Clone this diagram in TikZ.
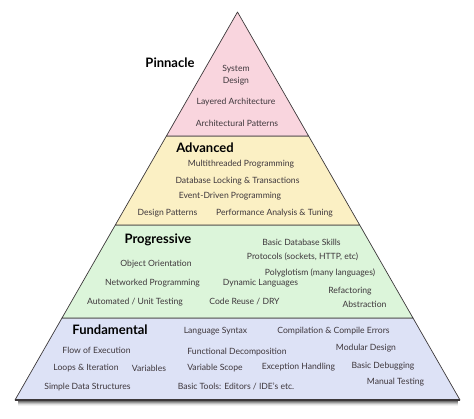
\documentclass[tikz,border=0pt]{standalone}
\usepackage{fontspec}
\setmainfont{Lato}

\definecolor{pinkband}{RGB}{249,213,222}
\definecolor{yellowband}{RGB}{251,240,196}
\definecolor{greenband}{RGB}{220,245,218}
\definecolor{blueband}{RGB}{221,226,246}
\definecolor{edgegray}{RGB}{60,56,58}
\definecolor{itemgray}{RGB}{62,55,60}

\begin{document}
\begin{tikzpicture}[x=1pt,y=1pt,yscale=-1,xscale=1,
  item/.style={font=\fontsize{8.6}{10}\selectfont, text=itemgray, inner sep=0pt},
  tier/.style={font=\fontsize{13}{15}\selectfont\bfseries, text=black, inner sep=0pt},
  band/.style={draw=edgegray, line width=0.7pt, line join=round}]

\useasboundingbox (0,0) rectangle (474,418);

% shadow under the base
\foreach \d/\o in {1/0.55,2/0.4,3/0.25,4/0.12,5/0.05}
  \draw[black, opacity=\o, line width=1pt] (18,400+\d) -- (458,400+\d);

% bands
\draw[band, fill=blueband] (62,318) -- (413,318) -- (460,400) -- (15,400) -- cycle;
\draw[band, fill=greenband] (115.3,225) -- (359.7,225) -- (413,318) -- (62,318) -- cycle;
\draw[band, fill=yellowband] (166.4,136) -- (308.6,136) -- (359.7,225) -- (115.3,225) -- cycle;
\draw[band, fill=pinkband] (237.5,12) -- (308.6,136) -- (166.4,136) -- cycle;
\draw[edgegray, line width=1.2pt] (15,400) -- (460,400);

% pinnacle
\node[tier] (pinnacle) at (170,63) {Pinnacle};
\node[item, align=center] (sysdesign) at (236,75) {System\\[2.5pt]Design};
\node[item] (layered) at (236,102) {Layered Architecture};
\node[item] (archpat) at (237,123) {Architectural Patterns};

% advanced
\node[tier] (advanced) at (205,148) {Advanced};
\node[item] (multithread) at (241,164) {Multithreaded Programming};
\node[item] (dblock) at (237.5,181) {Database Locking \& Transactions};
\node[item] (eventdriven) at (230,196) {Event-Driven Programming};
\node[item] (designpat) at (167.5,213) {Design Patterns};
\node[item] (perf) at (274.5,213) {Performance Analysis \& Tuning};

% progressive
\node[tier] (progressive) at (158,240) {Progressive};
\node[item] (dbskills) at (301.5,242) {Basic Database Skills};
\node[item] (protocols) at (302.5,257) {Protocols (sockets, HTTP, etc)};
\node[item] (objorient) at (156,264) {Object Orientation};
\node[item] (polyglot) at (320,273) {Polyglotism (many languages)};
\node[item] (networked) at (152.5,283) {Networked Programming};
\node[item] (dynlang) at (260.5,283) {Dynamic Languages};
\node[item] (refactor) at (350,291) {Refactoring};
\node[item] (unittest) at (135,302) {Automated / Unit Testing};
\node[item] (dry) at (244.5,302) {Code Reuse / DRY};
\node[item] (abstraction) at (364.5,304) {Abstraction};

% fundamental
\node[tier] (fundamental) at (110,330) {Fundamental};
\node[item] (syntax) at (215.5,331) {Language Syntax};
\node[item] (compile) at (333.5,331) {Compilation \& Compile Errors};
\node[item] (flow) at (96.5,350) {Flow of Execution};
\node[item] (funcdecomp) at (237,352) {Functional Decomposition};
\node[item] (modular) at (366,348) {Modular Design};
\node[item] (loops) at (86,368) {Loops \& Iteration};
\node[item] (variables) at (149,368) {Variables};
\node[item] (scope) at (215,368) {Variable Scope};
\node[item] (exceptions) at (298.5,367) {Exception Handling};
\node[item] (debugging) at (383,366) {Basic Debugging};
\node[item] (datastruct) at (87.5,387) {Simple Data Structures};
\node[item] (tools) at (236,386) {Basic Tools: Editors / IDE's etc.};
\node[item] (manualtest) at (395.5,382) {Manual Testing};

\end{tikzpicture}
\end{document}
